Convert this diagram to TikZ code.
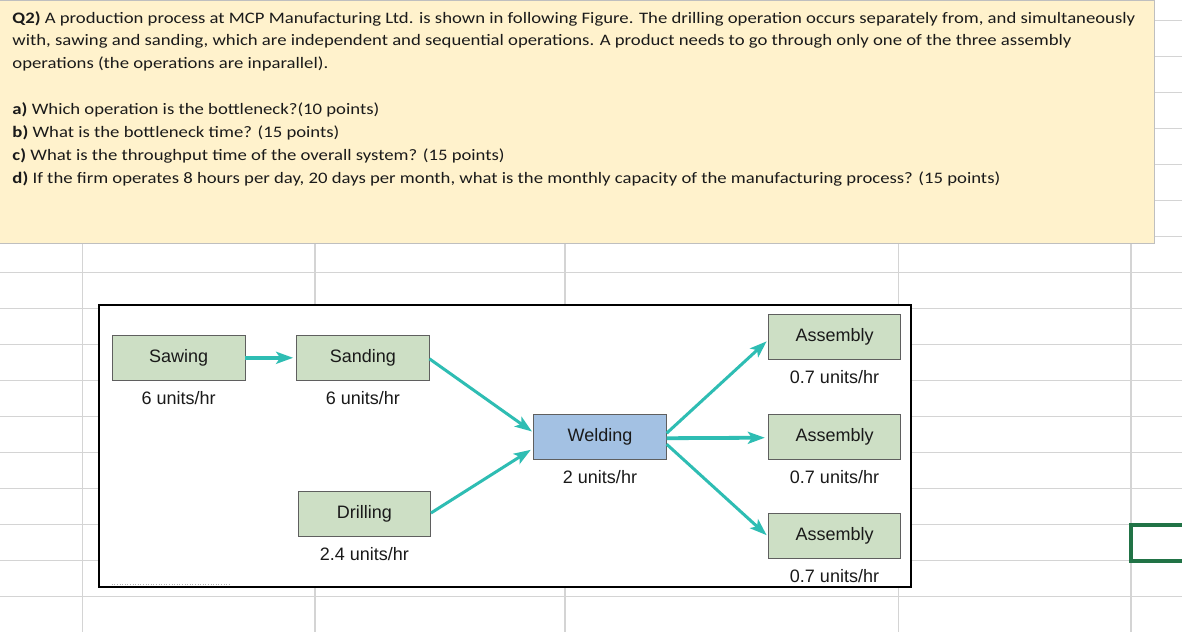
\documentclass[tikz,border=0pt]{standalone}
\usepackage{fontspec}
\setmainfont{Liberation Sans}
\newfontfamily\calibri[FakeStretch=1.169]{Carlito}
\usetikzlibrary{arrows.meta}
\definecolor{gridc}{HTML}{D4D4D4}
\definecolor{yfill}{HTML}{FFF2CC}
\definecolor{yborder}{HTML}{BFBFBF}
\definecolor{teal2}{HTML}{2EBDB3}
\definecolor{gfill}{HTML}{CDDFC5}
\definecolor{bfill}{HTML}{A3C1E3}
\definecolor{nborder}{HTML}{5F5F5F}
\definecolor{xlgreen}{HTML}{217346}
\definecolor{txt}{HTML}{1A1A1A}
\tikzset{
  gridline/.style={draw=gridc, line width=1.5pt},
  opbox/.style={draw=nborder, line width=0.8pt, fill=gfill, minimum width=132.5pt, minimum height=45pt, inner sep=0pt, font=\fontsize{18}{20}\selectfont, text=txt},
  lbl/.style={inner sep=0pt, font=\fontsize{18}{20}\selectfont, text=txt},
  qtext/.style={inner sep=0pt, anchor=base west, font=\calibri\fontsize{16}{18}\selectfont, text=txt},
  flow/.style={draw=teal2, line width=3pt, -{Stealth[length=17pt,width=12pt,inset=4pt]}, shorten >=3pt},
  hflow/.style={flow, line width=3.8pt},
}
\begin{document}
\begin{tikzpicture}[x=1pt, y=-1pt]
\useasboundingbox (0,0) rectangle (1182,632);
\clip (0,0) rectangle (1182,632);
\fill[white] (0,0) rectangle (1182,632);
% spreadsheet grid
\foreach \yy in {20.7,56.7,92.7,128.7,164.7,200.7,236.7,272.7,308.7,344.7,380.7,416.7,452.7,488.7,524.7,560.7,596.7}
  \draw[gridline] (0,\yy) -- (1182,\yy);
\foreach \xx in {82.7,315,565,898.6,1131}
  \draw[gridline] (\xx,0) -- (\xx,632);
% question box
\draw[draw=yborder, fill=yfill, line width=1.2pt] (-2,0.6) rectangle (1154.3,243.3);
\node[qtext] (t1) at (12.3,23.3) {\textbf{Q2)} A production process at MCP Manufacturing Ltd. is shown in following Figure. The drilling operation occurs separately from, and simultaneously};
\node[qtext] (t2) at (12.3,45.6) {with, sawing and sanding, which are independent and sequential operations. A product needs to go through only one of the three assembly};
\node[qtext] (t3) at (12.3,68.3) {operations (the operations are inparallel).};
\node[qtext] (t4) at (12.3,114) {\textbf{a)} Which operation is the bottleneck?(10 points)};
\node[qtext] (t5) at (12.3,137.5) {\textbf{b)} What is the bottleneck time? (15 points)};
\node[qtext] (t6) at (12.3,160.5) {\textbf{c)} What is the throughput time of the overall system? (15 points)};
\node[qtext] (t7) at (12.3,183) {\textbf{d)} If the firm operates 8 hours per day, 20 days per month, what is the monthly capacity of the manufacturing process? (15 points)};
% diagram frame
\draw[black, line width=2pt, fill=white] (98.7,305.3) rectangle (911,586.7);
\draw[gray!60, line width=0.6pt, dotted] (111.7,584.6) -- (229.3,584.6);
% operations
\node[opbox] (saw) at (178.7,357.8) {Sawing};
\node[opbox] (sand) at (362.8,357.8) {Sanding};
\node[opbox] (drill) at (364.3,514) {Drilling};
\node[opbox, fill=bfill] (weld) at (600,437.2) {Welding};
\node[opbox] (a1) at (834.5,337.3) {Assembly};
\node[opbox] (a2) at (834.5,436.7) {Assembly};
\node[opbox] (a3) at (834.5,536.2) {Assembly};
% rates
\node[lbl] (sawr) at ([yshift=-17pt]saw.south) {6 units/hr};
\node[lbl] (sandr) at ([yshift=-17pt]sand.south) {6 units/hr};
\node[lbl] (drillr) at ([yshift=-17pt]drill.south) {2.4 units/hr};
\node[lbl] (weldr) at ([yshift=-17pt]weld.south) {2 units/hr};
\node[lbl] (a1r) at ([yshift=-17pt]a1.south) {0.7 units/hr};
\node[lbl] (a2r) at ([yshift=-17pt]a2.south) {0.7 units/hr};
\node[lbl] (a3r) at ([yshift=-17pt]a3.south) {0.7 units/hr};
% flows
\draw[hflow] (saw.east) -- (sand.west);
\draw[flow] ([yshift=-1pt]sand.east) -- ([xshift=1pt,yshift=4pt]weld.west);
\draw[flow] ([yshift=1pt]drill.east) -- ([xshift=0pt,yshift=-11pt]weld.west);
\draw[flow] ([yshift=4pt]weld.east) -- ([xshift=1pt,yshift=-2pt]a1.west);
\draw[hflow] ([yshift=-1pt]weld.east) -- ([yshift=-1pt]a2.west);
\draw[flow] ([yshift=-7pt]weld.east) -- ([xshift=1pt,yshift=-1pt]a3.west);
% selected cell
\draw[xlgreen, line width=4pt] (1190,525.2) -- (1130.7,525.2) -- (1130.7,560.8) -- (1190,560.8);
\end{tikzpicture}
\end{document}
